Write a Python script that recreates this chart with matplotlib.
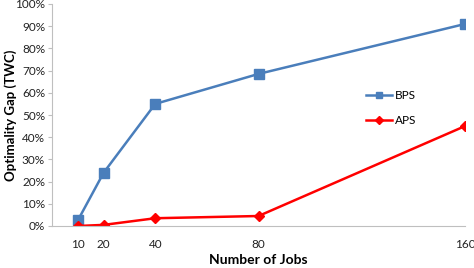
import matplotlib
matplotlib.use("Agg")
import matplotlib.pyplot as plt
from matplotlib.ticker import PercentFormatter

plt.rcParams['font.family'] = ['Lato', 'DejaVu Sans']

jobs = [10, 20, 40, 80, 160]
bps = [2.5, 24, 55, 68.5, 91]
aps = [0.0, 0.5, 3.5, 4.5, 45]
yticks = list(range(0, 101, 10))

fig = plt.figure(figsize=(4.74, 2.68), dpi=100)
ax = fig.add_axes([52/474, 42/268, (465-52)/474, (226-4)/268])

ax.plot(jobs, bps, color='#4A7EBB', lw=1.8, marker='s', ms=7, label='BPS')
ax.plot(jobs, aps, color='#FF0000', lw=1.8, marker='D', ms=5.5, label='APS')

ax.set_xlim(0, 160)
ax.set_ylim(0, 100)
ax.set_xticks(jobs)
ax.set_yticks(yticks)
ax.yaxis.set_major_formatter(PercentFormatter(decimals=0))
for s in ['top', 'right']:
    ax.spines[s].set_visible(False)
for s in ['left', 'bottom']:
    ax.spines[s].set_color('#BFBFBF')
    ax.spines[s].set_linewidth(0.8)
ax.tick_params(axis='both', labelsize=8.5, colors='#BFBFBF', labelcolor='#222222')
ax.tick_params(axis='x', length=0, pad=9)
ax.tick_params(axis='y', length=3, pad=2)
ax.set_xlabel('Number of Jobs', fontsize=10, fontweight='bold', va='center')
ax.xaxis.set_label_coords(0.5, (226 - 260) / 222)
ax.set_ylabel('Optimality Gap (TWC)', fontsize=9.5, fontweight='bold', va='center')
ax.yaxis.set_label_coords((11 - 52) / 413, 0.5)
ax.legend(loc='upper left', bbox_to_anchor=(0.735, 0.66), frameon=False,
          fontsize=8.5, handlelength=2.2, labelspacing=1.2, handletextpad=0.2,
          markerscale=0.7)

fig.savefig('out.png', dpi=100)
